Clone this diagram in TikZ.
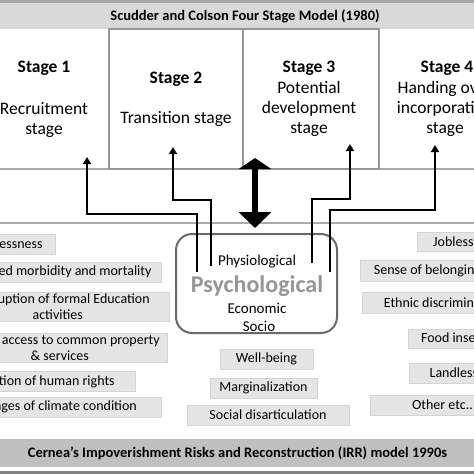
\documentclass[tikz,border=0pt]{standalone}
\usepackage{fontspec}
\setmainfont{Carlito}
\usetikzlibrary{arrows.meta}
\definecolor{bandtop}{RGB}{217,217,217}
\definecolor{bandtopline}{RGB}{165,165,165}
\definecolor{bandbot}{RGB}{192,192,192}
\definecolor{bandbotline}{RGB}{130,130,130}
\definecolor{riskfill}{RGB}{229,229,229}
\definecolor{riskline}{RGB}{212,212,212}
\definecolor{boxline}{RGB}{150,150,150}
\definecolor{sepline}{RGB}{170,170,170}
\definecolor{psyline}{RGB}{105,105,105}
\definecolor{psytext}{RGB}{150,150,150}
\begin{document}
\begin{tikzpicture}[x=1pt,y=-1pt,
  risk/.style={fill=riskfill, draw=riskline, line width=0.6pt, font=\fontsize{14}{16}\selectfont, minimum height=20pt, inner sep=0pt, align=center},
  riskii/.style={risk, minimum height=29pt},
  stagehead/.style={font=\bfseries\fontsize{17.5}{20}\selectfont, inner sep=0pt},
  stagetext/.style={font=\fontsize{17.5}{20}\selectfont, align=center, inner sep=0pt},
  stagebox/.style={draw=boxline, line width=2pt, minimum height=140pt, inner sep=0pt},
  bandtitle/.style={font=\bfseries\fontsize{14.5}{17}\selectfont, inner sep=0pt},
  psytxt/.style={font=\fontsize{15}{17}\selectfont, inner sep=0pt},
  linkarrow/.style={line width=2.4pt, -{Triangle[width=8pt,length=7pt]}},
  sep/.style={draw=sepline, line width=1.3pt}]
\useasboundingbox (0,0) rectangle (474,474);
\clip (0,0) rectangle (474,474);
\fill[white] (0,0) rectangle (474,474);

% top band
\fill[bandtopline] (0,0) rectangle (474,3);
\fill[bandtop] (0,3) rectangle (474,29);
\node[bandtitle] (title) at (245,16) {Scudder and Colson Four Stage Model (1980)};

% bottom band
\fill[bandbot] (0,439) rectangle (474,467);
\fill[bandbotline] (0,471) rectangle (474,474);
\node[bandtitle] (irr) at (237.5,453) {Cernea’s Impoverishment Risks and Reconstruction (IRR) model 1990s};

% separators
\draw[sep] (0,169) -- (474,169);
\draw[sep] (0,223) -- (474,223);

% stage boxes
\node[stagebox, minimum width=134pt] (st2box) at (176,99) {};
\node[stagebox, minimum width=136pt] (st3box) at (311,99) {};

% stage texts
\node[stagehead] (s1h) at (44,68) {Stage 1};
\node[stagetext] (s1t) at (44,120) {Recruitment\\stage};
\node[stagehead] (s2h) at (176,79) {Stage 2};
\node[stagetext] (s2t) at (176,119) {Transition stage};
\node[stagehead] (s3h) at (309,68) {Stage 3};
\node[stagetext] (s3t) at (309,109) {Potential\\development\\stage};
\node[stagehead] (s4h) at (447,68) {Stage 4};
\node[stagetext] (s4t) at (445,109) {Handing over\\incorporation\\stage};

% central box
\node[draw=psyline, line width=2pt, rounded corners=16pt, minimum width=161pt, minimum height=99pt, inner sep=0pt] (psy) at (256.5,283.5) {};
\node[psytxt] (phys) at (257,262) {Physiological};
\node[font=\bfseries\fontsize{24}{26}\selectfont, text=psytext, inner sep=0pt] (psych) at (257,286) {Psychological};
\node[psytxt] (econ) at (257,308) {Economic};
\node[psytxt] (socio) at (259,326) {Socio};

% left risks
\node[risk, anchor=east, minimum width=107pt] (r1) at (56,244) {Homelessness};
\node[risk, anchor=east, minimum width=214pt] (r2) at (162,272) {Increased morbidity and mortality};
\node[riskii, anchor=east, minimum width=224pt] (r3) at (170,307) {Interruption of formal Education\\activities};
\node[riskii, anchor=east, minimum width=216pt] (r4) at (168,347.5) {Loss of access to common property\\\& services};
\node[risk, anchor=east, minimum width=186pt] (r5) at (136,381.5) {Violation of human rights};
\node[risk, anchor=east, minimum width=214pt] (r6) at (162,407) {Changes of climate condition};

% middle risks
\node[risk, minimum width=93pt] (m1) at (266.5,359) {Well-being};
\node[risk, minimum width=107pt] (m2) at (263.5,388) {Marginalization};
\node[risk, minimum width=162pt] (m3) at (268,415) {Social disarticulation};

% right risks
\node[risk, minimum width=98pt, minimum height=19pt] (q1) at (466,241.5) {Joblessness};
\node[risk, minimum width=135pt, minimum height=21pt] (q2) at (427.5,270.5) {Sense of belonging};
\node[risk, minimum width=163pt, minimum height=21pt] (q3) at (443.5,302.5) {Ethnic discrimination};
\node[risk, minimum width=113pt, minimum height=19pt] (q4) at (464.5,338.5) {Food insecurity};
\node[risk, minimum width=115pt] (q5) at (466.5,373) {Landlessness};
\node[risk, minimum width=145pt] (q6) at (442.5,405) {Other etc..};

% link coordinates
\coordinate (a1) at (197,272); \coordinate (e1) at (87,157);
\coordinate (a2) at (211,266); \coordinate (e2) at (173,147);
\coordinate (a3) at (312,263); \coordinate (e3) at (350,144);
\coordinate (a4) at (330,272); \coordinate (e4) at (435,145);
\draw[linkarrow] (a1) -- ++(0,-58) -| (e1);
\draw[linkarrow] (a2) -- ++(0,-66) -| (e2);
\draw[linkarrow] (a3) -- ++(0,-64) -| (e3);
\draw[linkarrow] (a4) -- ++(0,-62) -| (e4);

% double arrow
\coordinate (dtop) at (255,158);
\coordinate (dbot) at (255,228);
\draw[line width=6pt, {Triangle[width=32pt,length=11pt]}-{Triangle[width=32pt,length=16pt]}] (dtop) -- (dbot);
\end{tikzpicture}
\end{document}
